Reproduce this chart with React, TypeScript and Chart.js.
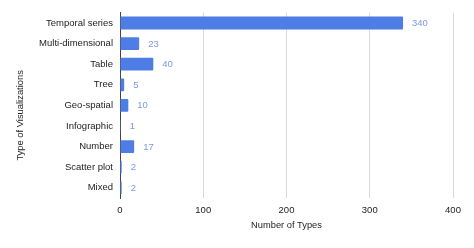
import React, { useEffect, useRef } from "react";
import { Chart, registerables } from "chart.js";

Chart.register(...registerables);

const categories = [
  "Temporal series",
  "Multi-dimensional",
  "Table",
  "Tree",
  "Geo-spatial",
  "Infographic",
  "Number",
  "Scatter plot",
  "Mixed",
];
const counts = [340, 23, 40, 5, 10, 1, 17, 2, 2];
const xTicks = [0, 100, 200, 300, 400];
const xTitle = "Number of Types";
const yTitle = "Type of Visualizations";

const FONT = "Arial, 'Liberation Sans', sans-serif";
const BAR = "#4f7de6";
const LABEL = "#7b98e2";

const valueLabels = {
  id: "valueLabels",
  afterDatasetsDraw(chart: any) {
    const ctx = chart.ctx;
    const meta = chart.getDatasetMeta(0);
    ctx.save();
    ctx.font = `9.5px ${FONT}`;
    ctx.fillStyle = LABEL;
    ctx.textAlign = "left";
    ctx.textBaseline = "middle";
    meta.data.forEach((bar: any, i: number) => {
      ctx.fillText(String(counts[i]), bar.x + 9, bar.y + 0.5);
    });
    ctx.restore();
  },
};

const yTitlePlugin = {
  id: "yTitlePlugin",
  afterDraw(chart: any) {
    const ctx = chart.ctx;
    const area = chart.chartArea;
    ctx.save();
    ctx.font = `9.4px ${FONT}`;
    ctx.fillStyle = "#222";
    ctx.textAlign = "center";
    ctx.textBaseline = "middle";
    ctx.translate(20, (area.top + area.bottom) / 2 + 10);
    ctx.rotate(-Math.PI / 2);
    ctx.fillText(yTitle, 0, 0);
    ctx.restore();
  },
};

export default function App() {
  const ref = useRef<HTMLCanvasElement>(null);
  useEffect(() => {
    if (!ref.current) return;
    const chart = new Chart(ref.current, {
      type: "bar",
      data: {
        labels: categories,
        datasets: [
          {
            data: counts,
            backgroundColor: BAR,
            borderRadius: 1,
            barPercentage: 0.62,
            categoryPercentage: 1,
          },
        ],
      },
      plugins: [valueLabels, yTitlePlugin],
      options: {
        indexAxis: "y",
        animation: false,
        responsive: false,
        maintainAspectRatio: false,
        layout: { padding: { top: 7, right: 21, left: 0, bottom: 0 } },
        plugins: { legend: { display: false }, tooltip: { enabled: false } },
        scales: {
          x: {
            min: 0,
            max: 400,
            afterBuildTicks: (scale: any) => {
              scale.ticks = xTicks.map((v) => ({ value: v }));
            },
            afterFit: (scale: any) => {
              scale.height = 50;
            },
            grid: {
              color: (c: any) => (c.tick && c.tick.value === 0 ? "rgba(0,0,0,0)" : "#d9d9d9"),
              lineWidth: 1,
              drawTicks: false,
            },
            border: { display: false },
            ticks: {
              padding: 7,
              color: "#222",
              font: { family: FONT, size: 9.5 },
            },
            title: {
              display: true,
              text: xTitle,
              color: "#222",
              font: { family: FONT, size: 9.3 },
              padding: { top: 0, bottom: 17 },
            },
          },
          y: {
            afterFit: (scale: any) => {
              scale.width = 120;
            },
            grid: { display: false, drawTicks: false },
            border: { display: true, color: "#444", width: 1 },
            ticks: {
              padding: 7,
              color: "#222",
              font: { family: FONT, size: 9.5 },
            },
          },
        },
      },
    });
    return () => chart.destroy();
  }, []);
  return (
    <div style={{ position: "fixed", left: 0, top: 0, width: 474, height: 248, background: "#fff" }}>
      <canvas ref={ref} width={474} height={248} style={{ width: 474, height: 248 }} />
    </div>
  );
}
